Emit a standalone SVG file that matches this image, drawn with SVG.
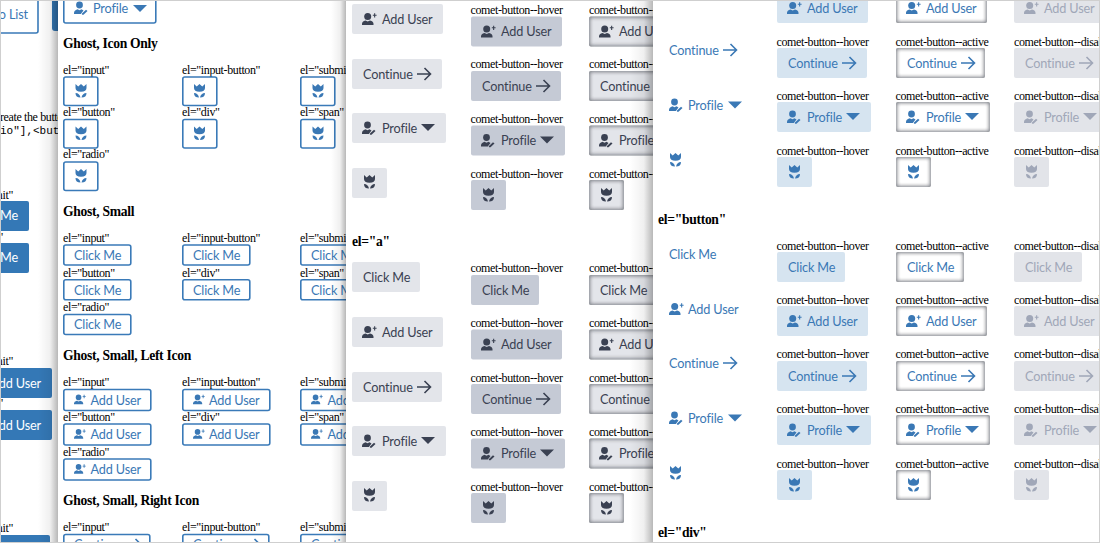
<svg xmlns="http://www.w3.org/2000/svg" width="1100" height="543" viewBox="0 0 1100 543">
<style>
text{font-family:"Liberation Serif","Times New Roman",serif;font-size:12px;letter-spacing:-.38px;fill:#000}
.h{font-weight:bold;font-size:13.6px;letter-spacing:-.3px}
.m{font-family:"Liberation Mono",monospace;font-size:11px;letter-spacing:0}
.b{font-family:Lato,"Open Sans",sans-serif;font-size:12.7px;letter-spacing:-.15px}
.g rect{fill:#fff;stroke:#3a7ab8;stroke-width:1.6}
.g,.tb{color:#3a78b5}.g text,.tb text,.hb text,.ab text{fill:#3a78b5}
.f rect{fill:#3478b6}.f text{fill:#fff}
.d rect{fill:#e3e5ea}.d,.dh,.da{color:#3a4152}.d text,.dh text,.da text{fill:#3a4152}
.dh rect{fill:#c5cad5}
.da rect{fill:#e3e5ea;filter:url(#inset)}
.hb{color:#3a78b5}.hb rect{fill:#d6e4f0}
.ab{color:#3a78b5}.ab rect{fill:#fff;filter:url(#inset)}
.x{color:#a0a7b8}.x rect{fill:#e2e4e9}.x text{fill:#a0a7b8}
.ln{fill:none;stroke:currentColor;stroke-width:1.6}
.ic{fill:currentColor}
</style>
<defs>
<linearGradient id="sh"><stop offset="0" stop-color="#000" stop-opacity="0"/><stop offset=".6" stop-color="#000" stop-opacity=".06"/><stop offset="1" stop-color="#000" stop-opacity=".28"/></linearGradient>
<filter id="inset" x="-40%" y="-60%" width="180%" height="220%" color-interpolation-filters="sRGB"><feFlood flood-color="#85888e"/><feComposite operator="out" in2="SourceAlpha"/><feGaussianBlur stdDeviation="2"/><feComposite operator="in" in2="SourceAlpha" result="s"/><feMerge><feMergeNode in="SourceGraphic"/><feMergeNode in="s"/><feMergeNode in="s"/></feMerge></filter>
<g id="i-add" class="ic"><circle cx="5.700" cy="-2.600" r="3.500"/><path d="M0 6V4.800Q0 2.500 3.500 1.500L5.700 2.600 8 1.500Q11.500 2.500 11.500 4.800V6Z"/><path d="M10.800-4.200h1.300v-1.600h1.100v1.600h1.400v1h-1.400v1.600h-1.100v-1.600h-1.300Z"/></g>
<g id="i-prof" class="ic"><circle cx="5.500" cy="-3" r="3.400"/><path d="M0 6V5Q0 2.500 3.500 1.300L5.500 2.300 7.500 1.300 9.500 2.500 6.800 6Z"/><path d="M8.200 6.800 7.700 5.800 12 1.800 13.500 3 9.500 6.800Z"/></g>
<g id="i-arrow" class="ln"><path d="M0 0H13M7.500-6 13.500 0 7.500 6"/></g>
<path id="i-caret" class="ic" d="M0-3.500H14L7 3.500Z"/>
<g id="i-tulip" class="ic"><path d="M0-7 2.700-4.600 5.500-7 8.300-4.600 11-7V-3Q11 .6 5.500 .8 0 .6 0-3Z"/><path d="M0 2Q4 2 5 6.500 0 6.500 0 2ZM11 2Q7 2 6 6.500 11 6.500 11 2Z"/></g>
</defs>

<rect width="1100" height="543" fill="#fff"/>

<g id="panel-1">
<g class="g"><rect x="-20" y="-10" width="58" height="43" rx="2"/><text class="b" x="28" y="19" text-anchor="end">To List</text></g>
<rect x="52" y="-5" width="10" height="36" rx="3" fill="#3478b6"/>
<text x="0" y="121">reate the button</text>
<text class="m" x="0" y="134">io"],&lt;button</text>
<text x="13" y="199" text-anchor="end">el="submit"</text>
<g class="f"><rect x="-50" y="201" width="79" height="30" rx="2"/><text class="b" x="18" y="220" text-anchor="end">Click Me</text></g>
<text x="3" y="241" text-anchor="end">el="span"</text>
<g class="f"><rect x="-50" y="243" width="79" height="30" rx="2"/><text class="b" x="18" y="262" text-anchor="end">Click Me</text></g>
<text x="13" y="365" text-anchor="end">el="submit"</text>
<g class="f"><rect x="-50" y="368" width="102" height="30" rx="2"/><text class="b" x="41" y="388" text-anchor="end">Add User</text></g>
<text x="3" y="407" text-anchor="end">el="span"</text>
<g class="f"><rect x="-50" y="410" width="102" height="30" rx="2"/><text class="b" x="41" y="430" text-anchor="end">Add User</text></g>
<text x="13" y="532" text-anchor="end">el="submit"</text>
<g class="f"><rect x="-50" y="535" width="100" height="30" rx="2"/></g>
</g>
<rect x="38" y="0" width="20" height="543" fill="url(#sh)"/>

<g id="panel-2">
<rect x="58" y="0" width="288" height="543" fill="#fff"/>
<g class="g"><rect x="63.800" y="-8" width="92" height="31" rx="2"/><use href="#i-prof" x="74" y="8"/><text class="b" x="93" y="13">Profile</text><use href="#i-caret" x="133" y="8.500"/></g>
<text class="h" x="63" y="48">Ghost, Icon Only</text>
<text x="63" y="74">el="input"</text><text x="182" y="74">el="input-button"</text><text x="300" y="74">el="submit"</text>
<g class="g"><rect x="63.800" y="77" width="34" height="28.500" rx="2"/><use href="#i-tulip" x="75.500" y="91"/></g>
<g class="g"><rect x="182.800" y="77" width="34" height="28.500" rx="2"/><use href="#i-tulip" x="194" y="91"/></g>
<g class="g"><rect x="300.800" y="77" width="34" height="28.500" rx="2"/><use href="#i-tulip" x="312.500" y="91"/></g>
<text x="63" y="116">el="button"</text><text x="182" y="116">el="div"</text><text x="300" y="116">el="span"</text>
<g class="g"><rect x="63.800" y="119.500" width="34" height="28.500" rx="2"/><use href="#i-tulip" x="75.500" y="133.500"/></g>
<g class="g"><rect x="182.800" y="119.500" width="34" height="28.500" rx="2"/><use href="#i-tulip" x="194" y="133.500"/></g>
<g class="g"><rect x="300.800" y="119.500" width="34" height="28.500" rx="2"/><use href="#i-tulip" x="312.500" y="133.500"/></g>
<text x="63" y="158">el="radio"</text>
<g class="g"><rect x="63.800" y="162" width="34" height="28.500" rx="2"/><use href="#i-tulip" x="75.500" y="176"/></g>
<text class="h" x="63" y="216">Ghost, Small</text>
<text x="63" y="242">el="input"</text><text x="182" y="242">el="input-button"</text><text x="300" y="242">el="submit"</text>
<g class="g"><rect x="63.800" y="245" width="67" height="20" rx="2"/><text class="b" x="74" y="259.500">Click Me</text></g>
<g class="g"><rect x="182.800" y="245" width="67" height="20" rx="2"/><text class="b" x="193" y="259.500">Click Me</text></g>
<g class="g"><rect x="300.800" y="245" width="67" height="20" rx="2"/><text class="b" x="311" y="259.500">Click Me</text></g>
<text x="63" y="277">el="button"</text><text x="182" y="277">el="div"</text><text x="300" y="277">el="span"</text>
<g class="g"><rect x="63.800" y="279.800" width="67" height="20" rx="2"/><text class="b" x="74" y="294.500">Click Me</text></g>
<g class="g"><rect x="182.800" y="279.800" width="67" height="20" rx="2"/><text class="b" x="193" y="294.500">Click Me</text></g>
<g class="g"><rect x="300.800" y="279.800" width="67" height="20" rx="2"/><text class="b" x="311" y="294.500">Click Me</text></g>
<text x="63" y="311">el="radio"</text>
<g class="g"><rect x="63.800" y="314.500" width="67" height="20" rx="2"/><text class="b" x="74" y="329">Click Me</text></g>
<text class="h" x="63" y="360">Ghost, Small, Left Icon</text>
<text x="63" y="386">el="input"</text><text x="182" y="386">el="input-button"</text><text x="300" y="386">el="submit"</text>
<g class="g"><rect x="63.800" y="389.500" width="87" height="21" rx="2"/><use href="#i-add" transform="translate(74 399.500) scale(.8)"/><text class="b" x="90.500" y="404.500">Add User</text></g>
<g class="g"><rect x="182.800" y="389.500" width="87" height="21" rx="2"/><use href="#i-add" transform="translate(193 399.500) scale(.8)"/><text class="b" x="209" y="404.500">Add User</text></g>
<g class="g"><rect x="300.800" y="389.500" width="87" height="21" rx="2"/><use href="#i-add" transform="translate(311 399.500) scale(.8)"/><text class="b" x="327.500" y="404.500">Add User</text></g>
<text x="63" y="421">el="button"</text><text x="182" y="421">el="div"</text><text x="300" y="421">el="span"</text>
<g class="g"><rect x="63.800" y="424" width="87" height="21" rx="2"/><use href="#i-add" transform="translate(74 434) scale(.8)"/><text class="b" x="90.500" y="439">Add User</text></g>
<g class="g"><rect x="182.800" y="424" width="87" height="21" rx="2"/><use href="#i-add" transform="translate(193 434) scale(.8)"/><text class="b" x="209" y="439">Add User</text></g>
<g class="g"><rect x="300.800" y="424" width="87" height="21" rx="2"/><use href="#i-add" transform="translate(311 434) scale(.8)"/><text class="b" x="327.500" y="439">Add User</text></g>
<text x="63" y="456">el="radio"</text>
<g class="g"><rect x="63.800" y="459" width="87" height="21" rx="2"/><use href="#i-add" transform="translate(74 469) scale(.8)"/><text class="b" x="90.500" y="474">Add User</text></g>
<text class="h" x="63" y="505">Ghost, Small, Right Icon</text>
<text x="63" y="531">el="input"</text><text x="182" y="531">el="input-button"</text><text x="300" y="531">el="submit"</text>
<g class="g"><rect x="63.800" y="534.500" width="86" height="21" rx="2"/><text class="b" x="74" y="549">Continue</text><use href="#i-arrow" x="128" y="545"/></g>
<g class="g"><rect x="182.800" y="534.500" width="86" height="21" rx="2"/><text class="b" x="193" y="549">Continue</text><use href="#i-arrow" x="247" y="545"/></g>
<g class="g"><rect x="300.800" y="534.500" width="86" height="21" rx="2"/><text class="b" x="311" y="549">Continue</text></g>
</g>
<rect x="331" y="0" width="15" height="543" fill="url(#sh)"/>

<g id="panel-3">
<rect x="346" y="0" width="307" height="543" fill="#fff"/>
<text x="470.500" y="14">comet-button--hover</text><text x="589" y="14">comet-button--active</text>
<g class="d"><rect x="352" y="4" width="91" height="30" rx="2"/><use href="#i-add" x="362" y="19"/><text class="b" x="382" y="23.500">Add User</text></g>
<g class="dh"><rect x="471" y="16.500" width="91" height="30" rx="2"/><use href="#i-add" x="481" y="31.500"/><text class="b" x="501" y="36">Add User</text></g>
<g class="da"><rect x="589" y="16.500" width="91" height="30" rx="2"/><use href="#i-add" x="599" y="31.500"/><text class="b" x="619" y="36">Add User</text></g>
<text x="470.500" y="68">comet-button--hover</text><text x="589" y="68">comet-button--active</text>
<g class="d"><rect x="352" y="59" width="90" height="30" rx="2"/><text class="b" x="363" y="78.500">Continue</text><use href="#i-arrow" x="417" y="74"/></g>
<g class="dh"><rect x="471" y="71" width="90" height="30" rx="2"/><text class="b" x="482" y="90.500">Continue</text><use href="#i-arrow" x="536" y="86"/></g>
<g class="da"><rect x="589" y="71" width="90" height="30" rx="2"/><text class="b" x="600" y="90.500">Continue</text><use href="#i-arrow" x="654" y="86"/></g>
<text x="470.500" y="123">comet-button--hover</text><text x="589" y="123">comet-button--active</text>
<g class="d"><rect x="352" y="113" width="94" height="30" rx="2"/><use href="#i-prof" x="362" y="128"/><text class="b" x="382" y="132.500">Profile</text><use href="#i-caret" x="421" y="127.500"/></g>
<g class="dh"><rect x="471" y="125.500" width="94" height="30" rx="2"/><use href="#i-prof" x="481" y="140.500"/><text class="b" x="501" y="145">Profile</text><use href="#i-caret" x="540" y="140"/></g>
<g class="da"><rect x="589" y="125.500" width="94" height="30" rx="2"/><use href="#i-prof" x="599" y="140.500"/><text class="b" x="619" y="145">Profile</text></g>
<text x="470.500" y="178">comet-button--hover</text><text x="589" y="178">comet-button--active</text>
<g class="d"><rect x="352" y="168" width="35" height="30" rx="2"/><use href="#i-tulip" x="364" y="182"/></g>
<g class="dh"><rect x="471" y="180" width="35" height="30" rx="2"/><use href="#i-tulip" x="483" y="195"/></g>
<g class="da"><rect x="589" y="180" width="35" height="30" rx="2"/><use href="#i-tulip" x="601" y="195"/></g>
<text class="h" x="352" y="246">el="a"</text>
<text x="470.500" y="272">comet-button--hover</text><text x="589" y="272">comet-button--active</text>
<g class="d"><rect x="352" y="262" width="68" height="30" rx="2"/><text class="b" x="363" y="281.500">Click Me</text></g>
<g class="dh"><rect x="471" y="275" width="68" height="30" rx="2"/><text class="b" x="482" y="294.500">Click Me</text></g>
<g class="da"><rect x="589" y="275" width="68" height="30" rx="2"/><text class="b" x="600" y="294.500">Click Me</text></g>
<text x="470.500" y="327">comet-button--hover</text><text x="589" y="327">comet-button--active</text>
<g class="d"><rect x="352" y="317" width="91" height="30" rx="2"/><use href="#i-add" x="362" y="332"/><text class="b" x="382" y="336.500">Add User</text></g>
<g class="dh"><rect x="471" y="329.500" width="91" height="30" rx="2"/><use href="#i-add" x="481" y="344.500"/><text class="b" x="501" y="349">Add User</text></g>
<g class="da"><rect x="589" y="329.500" width="91" height="30" rx="2"/><use href="#i-add" x="599" y="344.500"/><text class="b" x="619" y="349">Add User</text></g>
<text x="470.500" y="382">comet-button--hover</text><text x="589" y="382">comet-button--active</text>
<g class="d"><rect x="352" y="372" width="90" height="30" rx="2"/><text class="b" x="363" y="391.500">Continue</text><use href="#i-arrow" x="417" y="387"/></g>
<g class="dh"><rect x="471" y="384" width="90" height="30" rx="2"/><text class="b" x="482" y="403.500">Continue</text><use href="#i-arrow" x="536" y="399"/></g>
<g class="da"><rect x="589" y="384" width="90" height="30" rx="2"/><text class="b" x="600" y="403.500">Continue</text></g>
<text x="470.500" y="436">comet-button--hover</text><text x="589" y="436">comet-button--active</text>
<g class="d"><rect x="352" y="426" width="94" height="30" rx="2"/><use href="#i-prof" x="362" y="441"/><text class="b" x="382" y="445.500">Profile</text><use href="#i-caret" x="421" y="440.500"/></g>
<g class="dh"><rect x="471" y="438.500" width="94" height="30" rx="2"/><use href="#i-prof" x="481" y="453.500"/><text class="b" x="501" y="458">Profile</text><use href="#i-caret" x="540" y="453"/></g>
<g class="da"><rect x="589" y="438.500" width="94" height="30" rx="2"/><use href="#i-prof" x="599" y="453.500"/><text class="b" x="619" y="458">Profile</text></g>
<text x="470.500" y="491">comet-button--hover</text><text x="589" y="491">comet-button--active</text>
<g class="d"><rect x="352" y="481" width="35" height="30" rx="2"/><use href="#i-tulip" x="364" y="495"/></g>
<g class="dh"><rect x="471" y="493" width="35" height="30" rx="2"/><use href="#i-tulip" x="483" y="508"/></g>
<g class="da"><rect x="589" y="493" width="35" height="30" rx="2"/><use href="#i-tulip" x="601" y="508"/></g>
</g>
<rect x="630" y="0" width="23" height="543" fill="url(#sh)"/>

<g id="panel-4">
<rect x="653" y="0" width="447" height="543" fill="#fff"/>
<rect x="669" y="-5" width="11" height="6" fill="#3a78b5"/>
<g class="hb"><rect x="777" y="-7" width="91" height="30" rx="2"/><use href="#i-add" x="787" y="8"/><text class="b" x="807" y="12.500">Add User</text></g>
<g class="ab"><rect x="896" y="-7" width="91" height="30" rx="2"/><use href="#i-add" x="906" y="8"/><text class="b" x="926" y="12.500">Add User</text></g>
<g class="x"><rect x="1014" y="-7" width="91" height="30" rx="2"/><use href="#i-add" x="1024" y="8"/><text class="b" x="1044" y="12.500">Add User</text></g>
<text x="776.500" y="46">comet-button--hover</text><text x="895.500" y="46">comet-button--active</text><text x="1014" y="46">comet-button--disabled</text>
<g class="tb"><text class="b" x="669" y="54.500">Continue</text><use href="#i-arrow" x="723" y="50"/></g>
<g class="hb"><rect x="777" y="48" width="90" height="30" rx="2"/><text class="b" x="788" y="67.500">Continue</text><use href="#i-arrow" x="842" y="63"/></g>
<g class="ab"><rect x="896" y="48" width="89" height="30" rx="2"/><text class="b" x="907" y="67.500">Continue</text><use href="#i-arrow" x="961" y="63"/></g>
<g class="x"><rect x="1014" y="48" width="89" height="30" rx="2"/><text class="b" x="1025" y="67.500">Continue</text><use href="#i-arrow" x="1079" y="63"/></g>
<text x="776.500" y="100">comet-button--hover</text><text x="895.500" y="100">comet-button--active</text><text x="1014" y="100">comet-button--disabled</text>
<g class="tb"><use href="#i-prof" x="669" y="105"/><text class="b" x="688" y="109.500">Profile</text><use href="#i-caret" x="728" y="105"/></g>
<g class="hb"><rect x="777" y="102" width="94" height="30" rx="2"/><use href="#i-prof" x="787" y="117"/><text class="b" x="807" y="121.500">Profile</text><use href="#i-caret" x="846" y="116.500"/></g>
<g class="ab"><rect x="896" y="102" width="94" height="30" rx="2"/><use href="#i-prof" x="906" y="117"/><text class="b" x="926" y="121.500">Profile</text><use href="#i-caret" x="965" y="116.500"/></g>
<g class="x"><rect x="1014" y="102" width="94" height="30" rx="2"/><use href="#i-prof" x="1024" y="117"/><text class="b" x="1044" y="121.500">Profile</text><use href="#i-caret" x="1083" y="116.500"/></g>
<text x="776.500" y="155">comet-button--hover</text><text x="895.500" y="155">comet-button--active</text><text x="1014" y="155">comet-button--disabled</text>
<g class="tb"><use href="#i-tulip" x="670" y="160"/></g>
<g class="hb"><rect x="777" y="157" width="35" height="30" rx="2"/><use href="#i-tulip" x="789" y="172"/></g>
<g class="ab"><rect x="896" y="157" width="35" height="30" rx="2"/><use href="#i-tulip" x="908" y="172"/></g>
<g class="x"><rect x="1014" y="157" width="35" height="30" rx="2"/><use href="#i-tulip" x="1026" y="172"/></g>
<text class="h" x="658" y="224">el="button"</text>
<text x="776.500" y="250">comet-button--hover</text><text x="895.500" y="250">comet-button--active</text><text x="1014" y="250">comet-button--disabled</text>
<g class="tb"><text class="b" x="669" y="258.500">Click Me</text></g>
<g class="hb"><rect x="777" y="252" width="68" height="30" rx="2"/><text class="b" x="788" y="271.500">Click Me</text></g>
<g class="ab"><rect x="896" y="252" width="68" height="30" rx="2"/><text class="b" x="907" y="271.500">Click Me</text></g>
<g class="x"><rect x="1014" y="252" width="68" height="30" rx="2"/><text class="b" x="1025" y="271.500">Click Me</text></g>
<text x="776.500" y="304">comet-button--hover</text><text x="895.500" y="304">comet-button--active</text><text x="1014" y="304">comet-button--disabled</text>
<g class="tb"><use href="#i-add" x="669" y="309"/><text class="b" x="688" y="313.500">Add User</text></g>
<g class="hb"><rect x="777" y="306" width="91" height="30" rx="2"/><use href="#i-add" x="787" y="321"/><text class="b" x="807" y="325.500">Add User</text></g>
<g class="ab"><rect x="896" y="306" width="91" height="30" rx="2"/><use href="#i-add" x="906" y="321"/><text class="b" x="926" y="325.500">Add User</text></g>
<g class="x"><rect x="1014" y="306" width="91" height="30" rx="2"/><use href="#i-add" x="1024" y="321"/><text class="b" x="1044" y="325.500">Add User</text></g>
<text x="776.500" y="358">comet-button--hover</text><text x="895.500" y="358">comet-button--active</text><text x="1014" y="358">comet-button--disabled</text>
<g class="tb"><text class="b" x="669" y="367.500">Continue</text><use href="#i-arrow" x="723" y="363"/></g>
<g class="hb"><rect x="777" y="361" width="90" height="30" rx="2"/><text class="b" x="788" y="380.500">Continue</text><use href="#i-arrow" x="842" y="376"/></g>
<g class="ab"><rect x="896" y="361" width="89" height="30" rx="2"/><text class="b" x="907" y="380.500">Continue</text><use href="#i-arrow" x="961" y="376"/></g>
<g class="x"><rect x="1014" y="361" width="89" height="30" rx="2"/><text class="b" x="1025" y="380.500">Continue</text><use href="#i-arrow" x="1079" y="376"/></g>
<text x="776.500" y="413">comet-button--hover</text><text x="895.500" y="413">comet-button--active</text><text x="1014" y="413">comet-button--disabled</text>
<g class="tb"><use href="#i-prof" x="669" y="418"/><text class="b" x="688" y="422.500">Profile</text><use href="#i-caret" x="728" y="418"/></g>
<g class="hb"><rect x="777" y="415" width="94" height="30" rx="2"/><use href="#i-prof" x="787" y="430"/><text class="b" x="807" y="434.500">Profile</text><use href="#i-caret" x="846" y="429.500"/></g>
<g class="ab"><rect x="896" y="415" width="94" height="30" rx="2"/><use href="#i-prof" x="906" y="430"/><text class="b" x="926" y="434.500">Profile</text><use href="#i-caret" x="965" y="429.500"/></g>
<g class="x"><rect x="1014" y="415" width="94" height="30" rx="2"/><use href="#i-prof" x="1024" y="430"/><text class="b" x="1044" y="434.500">Profile</text><use href="#i-caret" x="1083" y="429.500"/></g>
<text x="776.500" y="468">comet-button--hover</text><text x="895.500" y="468">comet-button--active</text><text x="1014" y="468">comet-button--disabled</text>
<g class="tb"><use href="#i-tulip" x="670" y="473"/></g>
<g class="hb"><rect x="777" y="470" width="35" height="30" rx="2"/><use href="#i-tulip" x="789" y="485"/></g>
<g class="ab"><rect x="896" y="470" width="35" height="30" rx="2"/><use href="#i-tulip" x="908" y="485"/></g>
<g class="x"><rect x="1014" y="470" width="35" height="30" rx="2"/><use href="#i-tulip" x="1026" y="485"/></g>
<text class="h" x="658" y="537">el="div"</text>
</g>
<rect x="0.500" y="0.500" width="1099" height="542" fill="none" stroke="#cfcfcf"/>
</svg>
